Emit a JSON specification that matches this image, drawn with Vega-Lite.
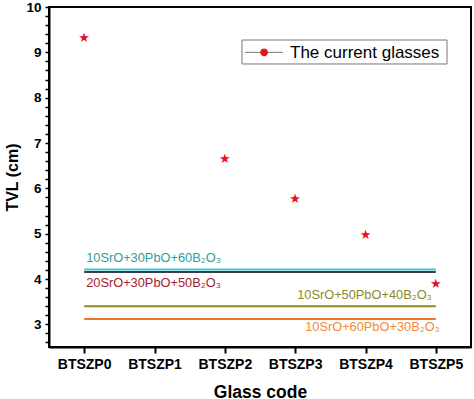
{
  "$schema": "https://vega.github.io/schema/vega-lite/v6.json",
  "width": 422,
  "height": 340,
  "autosize": {"type": "none"},
  "padding": {"left": 49, "top": 7, "right": 3, "bottom": 52},
  "config": {
    "font": "Liberation Sans",
    "view": {"stroke": "black", "strokeWidth": 2}
  },
  "data": {
    "values": [
      {"kind": "star", "idx": 0, "tvl": 9.31},
      {"kind": "star", "idx": 2, "tvl": 6.64},
      {"kind": "star", "idx": 3, "tvl": 5.77},
      {"kind": "star", "idx": 4, "tvl": 4.97},
      {"kind": "star", "idx": 5, "tvl": 3.88},
      {"kind": "line", "glass": "10SrO+30PbO+60B₂O₃", "idx": 0, "idx2": 5, "tvl": 4.21},
      {"kind": "line", "glass": "20SrO+30PbO+50B₂O₃", "idx": 0, "idx2": 5, "tvl": 4.155},
      {"kind": "line", "glass": "10SrO+50PbO+40B₂O₃", "idx": 0, "idx2": 5, "tvl": 3.4},
      {"kind": "line", "glass": "10SrO+60PbO+30B₂O₃", "idx": 0, "idx2": 5, "tvl": 3.12},
      {"kind": "note", "glass": "10SrO+30PbO+60B₂O₃", "idx": 0, "tvl": 4.37},
      {"kind": "note", "glass": "20SrO+30PbO+50B₂O₃", "idx": 0, "tvl": 3.82},
      {"kind": "note", "glass": "10SrO+50PbO+40B₂O₃", "idx": 5, "tvl": 3.56},
      {"kind": "note", "glass": "10SrO+60PbO+30B₂O₃", "idx": 5, "tvl": 2.85},
      {"kind": "legbox", "idx": 2.244, "idx2": 5.159, "tvl": 9.272, "tvl2": 8.743},
      {"kind": "legline", "idx": 2.287, "idx2": 2.827, "tvl": 9.0},
      {"kind": "legdot", "idx": 2.557, "tvl": 9.0},
      {"kind": "leglabel", "idx": 2.927, "tvl": 9.0, "glass": "The current glasses"}
    ]
  },
  "encoding": {
    "x": {
      "field": "idx",
      "type": "quantitative",
      "scale": {"domain": [-0.5, 5.5], "nice": false, "zero": false},
      "axis": {
        "title": "Glass code",
        "values": [0, 1, 2, 3, 4, 5],
        "labelExpr": "'BTSZP' + datum.value",
        "labelAngle": 0,
        "labelFont": "Liberation Sans",
        "labelFontWeight": "bold",
        "labelFontSize": 14,
        "labelColor": "black",
        "labelPadding": 4,
        "tickSize": 6,
        "tickWidth": 2,
        "tickColor": "black",
        "domainColor": "black",
        "domainWidth": 2,
        "titleFont": "Liberation Sans",
        "titleFontSize": 17.5,
        "titleFontWeight": "bold",
        "titleColor": "black",
        "titlePadding": 12,
        "grid": false
      }
    },
    "y": {
      "field": "tvl",
      "type": "quantitative",
      "scale": {"domain": [2.5, 10], "nice": false, "zero": false},
      "axis": {
        "title": "TVL (cm)",
        "values": [2.6, 2.8, 3, 3.2, 3.4, 3.6, 3.8, 4, 4.2, 4.4, 4.6, 4.8, 5, 5.2, 5.4, 5.6, 5.8, 6, 6.2, 6.4, 6.6, 6.8, 7, 7.2, 7.4, 7.6, 7.8, 8, 8.2, 8.4, 8.6, 8.8, 9, 9.2, 9.4, 9.6, 9.8, 10],
        "labelExpr": "datum.value % 1 === 0 ? format(datum.value, 'd') : ''",
        "tickSize": 4,
        "tickWidth": 1.5,
        "tickColor": "black",
        "domainColor": "black",
        "domainWidth": 2,
        "labelFont": "Liberation Sans",
        "labelFontWeight": "bold",
        "labelFontSize": 13.5,
        "labelColor": "black",
        "labelPadding": 4,
        "titleFont": "Liberation Sans",
        "titleFontSize": 16,
        "titleFontWeight": "bold",
        "titleColor": "black",
        "titlePadding": 5,
        "grid": false
      }
    }
  },
  "layer": [
    {
      "transform": [{"filter": "datum.kind === 'line'"}],
      "mark": {"type": "rule", "strokeWidth": 2},
      "encoding": {
        "x2": {"field": "idx2"},
        "color": {
          "field": "glass",
          "type": "nominal",
          "scale": {
            "domain": ["10SrO+30PbO+60B₂O₃", "20SrO+30PbO+50B₂O₃", "10SrO+50PbO+40B₂O₃", "10SrO+60PbO+30B₂O₃"],
            "range": ["#3cc8d4", "#3a3d4a", "#8c8c22", "#f0742a"]
          },
          "legend": null
        }
      }
    },
    {
      "transform": [{"filter": "datum.kind === 'note' && datum.idx === 0"}],
      "mark": {"type": "text", "align": "left", "baseline": "alphabetic", "dx": 2, "fontSize": 12.8, "font": "Liberation Sans"},
      "encoding": {
        "text": {"field": "glass"},
        "color": {
          "field": "glass",
          "type": "nominal",
          "scale": {
            "domain": ["10SrO+30PbO+60B₂O₃", "20SrO+30PbO+50B₂O₃", "10SrO+50PbO+40B₂O₃", "10SrO+60PbO+30B₂O₃"],
            "range": ["#2e9c9c", "#a3202e", "#8a8a2c", "#f08a3c"]
          },
          "legend": null
        }
      }
    },
    {
      "transform": [{"filter": "datum.kind === 'note' && datum.glass === '10SrO+50PbO+40B₂O₃'"}],
      "mark": {"type": "text", "align": "right", "baseline": "alphabetic", "dx": -4, "fontSize": 12.8, "font": "Liberation Sans", "color": "#8a8a2c"},
      "encoding": {"text": {"field": "glass"}}
    },
    {
      "transform": [{"filter": "datum.kind === 'note' && datum.glass === '10SrO+60PbO+30B₂O₃'"}],
      "mark": {"type": "text", "align": "right", "baseline": "alphabetic", "dx": 4, "fontSize": 12.8, "font": "Liberation Sans", "color": "#f08a3c"},
      "encoding": {"text": {"field": "glass"}}
    },
    {
      "transform": [{"filter": "datum.kind === 'star'"}],
      "mark": {"type": "text", "text": "★", "font": "DejaVu Sans", "fontSize": 13, "align": "center", "baseline": "middle", "color": "#e8101c"},
      "encoding": {}
    },
    {
      "transform": [{"filter": "datum.kind === 'legbox'"}],
      "mark": {"type": "rect", "fill": "white", "stroke": "#777777", "strokeWidth": 1},
      "encoding": {
        "x2": {"field": "idx2"},
        "y2": {"field": "tvl2"}
      }
    },
    {
      "transform": [{"filter": "datum.kind === 'legline'"}],
      "mark": {"type": "rule", "stroke": "#777777", "strokeWidth": 1},
      "encoding": {
        "x2": {"field": "idx2"}
      }
    },
    {
      "transform": [{"filter": "datum.kind === 'legdot'"}],
      "mark": {"type": "text", "text": "●", "font": "DejaVu Sans", "fontSize": 10, "align": "center", "baseline": "middle", "color": "#e8101c"},
      "encoding": {}
    },
    {
      "transform": [{"filter": "datum.kind === 'leglabel'"}],
      "mark": {"type": "text", "align": "left", "baseline": "middle", "fontSize": 17, "font": "Liberation Sans", "color": "black", "dy": 1},
      "encoding": {"text": {"field": "glass"}}
    }
  ],
  "resolve": {"scale": {"color": "independent"}}
}
